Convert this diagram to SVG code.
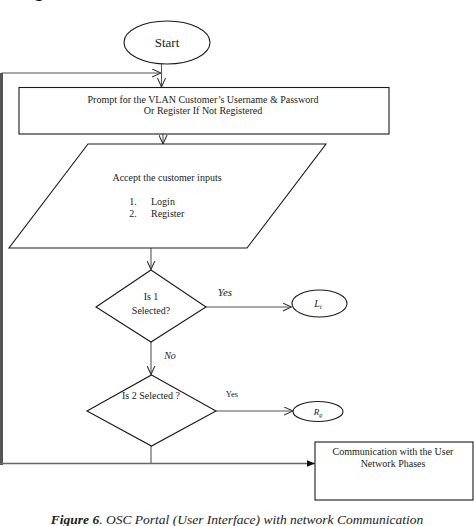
<svg xmlns="http://www.w3.org/2000/svg" width="474" height="526" viewBox="0 0 474 526">
<style>
.shape{fill:#fff;stroke:#1a1a1a;stroke-width:1.1}
.conn{fill:none;stroke:#555;stroke-width:1.1}
.t{font-family:"Liberation Serif","Times New Roman",serif;fill:#222;text-anchor:middle}
.s10{font-size:10px}
.it{font-style:italic}
</style>
<defs>
<marker id="open" viewBox="0 0 10 10" refX="10" refY="5" markerWidth="9" markerHeight="9" markerUnits="userSpaceOnUse" orient="auto">
<path d="M0,0.5 L10,5 L0,9.5" fill="none" stroke="#333" stroke-width="1.2"/>
</marker>
<marker id="filled" viewBox="0 0 10 10" refX="10" refY="5" markerWidth="8" markerHeight="8" markerUnits="userSpaceOnUse" orient="auto">
<path d="M0,1 L10,5 L0,9 z" fill="#111"/>
</marker>
</defs>
<rect width="474" height="526" fill="#fff"/>
<text x="33" y="-3" font-family="Liberation Sans,Arial,sans-serif" font-weight="bold" font-size="20" fill="#111">g</text>
<g id="connectors">
<line class="conn" x1="161.5" y1="64" x2="161.5" y2="87" marker-end="url(#open)"/>
<polyline class="conn" points="2,464 2,73 161,73" marker-end="url(#open)"/>
<line x1="1.5" y1="73" x2="1.5" y2="465" stroke="#555" stroke-width="3"/>
<line class="conn" x1="163" y1="134" x2="163" y2="144" marker-end="url(#open)"/>
<line class="conn" x1="151" y1="248" x2="151" y2="269.5" marker-end="url(#open)"/>
<line class="conn" x1="206" y1="307" x2="291.5" y2="307" marker-end="url(#open)"/>
<line class="conn" x1="151" y1="342" x2="151" y2="374.5" marker-end="url(#open)"/>
<line class="conn" x1="216" y1="411" x2="293" y2="411" marker-end="url(#open)"/>
<line class="conn" x1="151" y1="446" x2="151" y2="463.5"/>
<line x1="0" y1="463.5" x2="315" y2="463.5" stroke="#666" stroke-width="1.5" marker-end="url(#filled)"/>
<text class="t it" x="225" y="296" font-size="11">Yes</text>
<text class="t it" x="170" y="358.5" font-size="10">No</text>
<text class="t" x="232" y="397" font-size="8.5">Yes</text>
</g>
<g id="start">
<ellipse class="shape" cx="167" cy="42.5" rx="43" ry="21.5"/>
<text class="t" x="167" y="47" font-size="13">Start</text>
</g>
<g id="prompt">
<rect class="shape" x="19" y="87.5" width="370" height="46.5"/>
<text class="t s10" x="203" y="102.5">Prompt for the VLAN Customer’s Username &amp; Password</text>
<text class="t s10" x="203" y="113.5">Or Register If Not Registered</text>
</g>
<g id="accept">
<polygon class="shape" points="88,144 326,144 247,248 9,248"/>
<text class="t s10" x="167" y="180.5">Accept the customer inputs</text>
<text class="t s10" x="133" y="204.5">1.</text>
<text class="t s10" x="151" y="204.5" style="text-anchor:start">Login</text>
<text class="t s10" x="133" y="216.5">2.</text>
<text class="t s10" x="151" y="216.5" style="text-anchor:start">Register</text>
</g>
<g id="decision1">
<polygon class="shape" points="151,270 206,307 151,342 96,307"/>
<text class="t s10" x="151" y="299.5">Is 1</text>
<text class="t s10" x="151" y="313.5">Selected?</text>
</g>
<g id="li">
<ellipse class="shape" cx="319.5" cy="303.5" rx="27.5" ry="13.5"/>
<text class="t it" x="318" y="307" font-size="10">L<tspan font-size="7" dy="2">i</tspan></text>
</g>
<g id="decision2">
<polygon class="shape" points="151.5,375 216,411 151.5,446 87,411"/>
<text class="t s10" x="151" y="398.5">Is 2 Selected ?</text>
</g>
<g id="rg">
<ellipse class="shape" cx="318" cy="411.5" rx="25" ry="10"/>
<text class="t it" x="318" y="414.5" font-size="9">R<tspan font-size="6" dy="2">g</tspan></text>
</g>
<g id="communication">
<rect class="shape" x="315" y="442" width="158" height="58"/>
<text class="t s10" x="393" y="454.5">Communication with the User</text>
<text class="t s10" x="393" y="466.5">Network Phases</text>
</g>
<text class="t it" x="237" y="524" font-size="13.5"><tspan font-weight="bold">Figure 6</tspan>. OSC Portal (User Interface) with network Communication</text>
</svg>
